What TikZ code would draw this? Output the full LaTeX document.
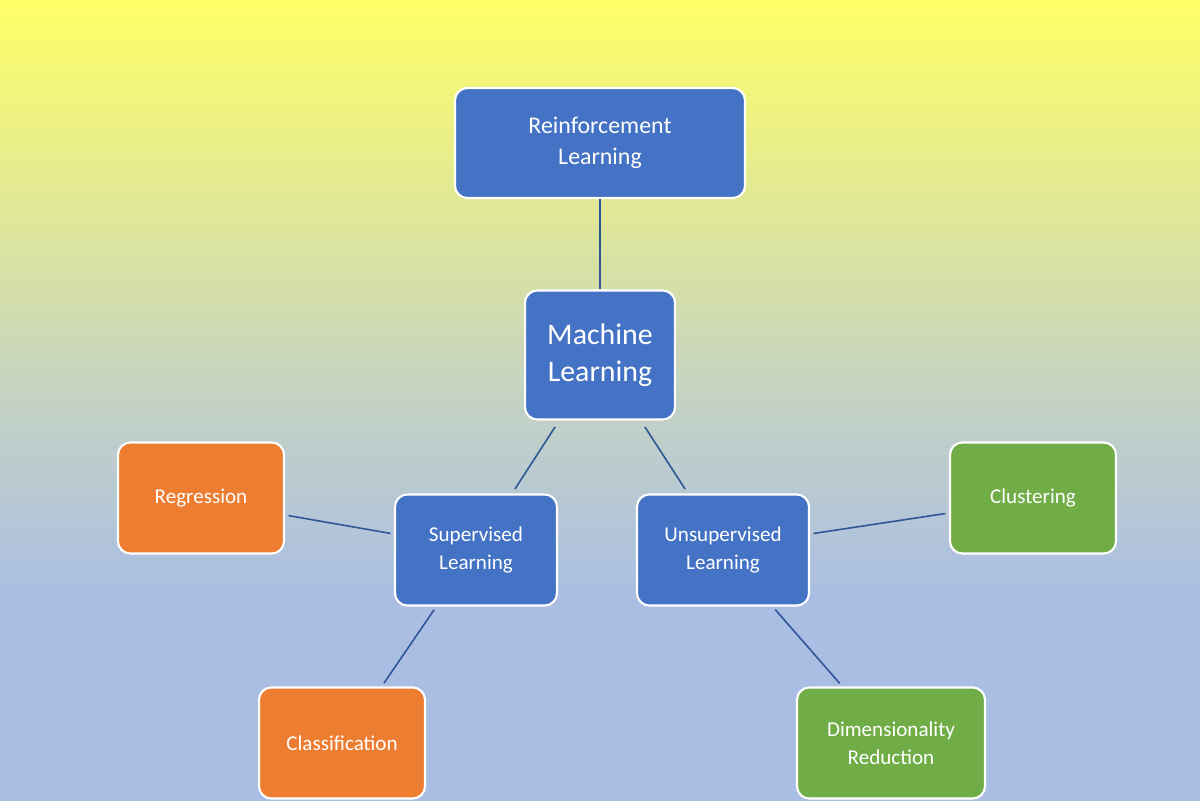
\documentclass[tikz,border=0pt]{standalone}
\usepackage{fontspec}
\setmainfont{Carlito}
\definecolor{bl}{RGB}{68,114,196}
\definecolor{or}{RGB}{237,125,49}
\definecolor{gr}{RGB}{112,173,71}
\definecolor{ln}{RGB}{47,85,151}
\definecolor{ytop}{RGB}{255,255,102}
\definecolor{ymid}{RGB}{196,210,196}
\definecolor{ybot}{RGB}{170,190,228}
\begin{document}
\begin{tikzpicture}[x=0.02cm,y=-0.02cm,
 box/.style={draw=white,line width=1.2pt,rounded corners=7pt,text=white,align=center,inner sep=0pt,font=\fontsize{12}{16}\selectfont},
 edge/.style={draw=ln,line width=0.9pt,shorten <=2pt,shorten >=2pt}]
\useasboundingbox (0,0) rectangle (1200,801);
\shade[top color=ytop,bottom color=ymid] (0,0) rectangle (1200,400);
\shade[top color=ymid,bottom color=ybot] (0,399) rectangle (1200,600);
\fill[ybot] (0,599) rectangle (1200,801);
\node[box,fill=bl,minimum width=290*0.02cm,minimum height=110*0.02cm,font=\fontsize{13.6}{18}\selectfont] (rl) at (600,143) {Reinforcement\\Learning};
\node[box,fill=bl,minimum width=150*0.02cm,minimum height=129*0.02cm,font=\fontsize{17}{21}\selectfont] (ml) at (600,355) {Machine\\Learning};
\node[box,fill=bl,minimum width=162*0.02cm,minimum height=111*0.02cm] (sl) at (476,550) {Supervised\\Learning};
\node[box,fill=bl,minimum width=172*0.02cm,minimum height=111*0.02cm] (ul) at (723,550) {Unsupervised\\Learning};
\node[box,fill=or,minimum width=166*0.02cm,minimum height=111*0.02cm] (rg) at (201,498) {Regression};
\node[box,fill=or,minimum width=166*0.02cm,minimum height=111*0.02cm] (cl) at (342,743) {Classification};
\node[box,fill=gr,minimum width=166*0.02cm,minimum height=111*0.02cm] (cu) at (1033,498) {Clustering};
\node[box,fill=gr,minimum width=188*0.02cm,minimum height=111*0.02cm] (dr) at (891,743) {Dimensionality\\Reduction};
\draw[edge,shorten <=0pt,shorten >=0pt] (rl) -- (ml);
\draw[edge] (557,424) -- (513,492);
\draw[edge] (643,424) -- (687,492);
\draw[edge] (rg.east |- 0,515) -- (sl.west |- 0,534);
\draw[edge] (436,607) -- (382,686);
\draw[edge] (ul.east |- 0,534) -- (cu.west |- 0,513);
\draw[edge] (773,607) -- (842,686);
\end{tikzpicture}
\end{document}
